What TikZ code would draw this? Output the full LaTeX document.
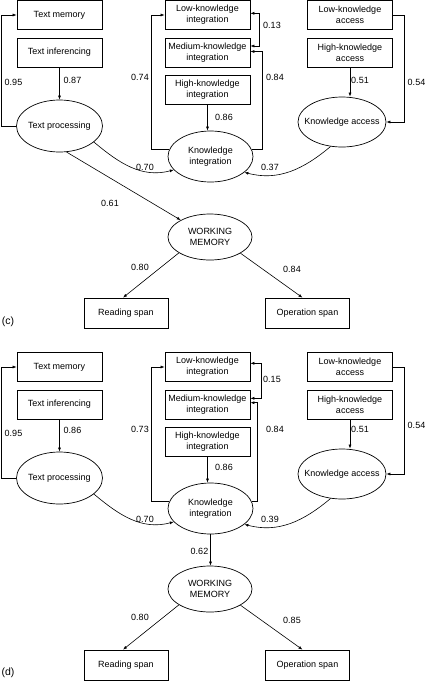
\documentclass[tikz,border=0pt]{standalone}
\usepackage{fontspec}
\setmainfont{Liberation Sans}
\usetikzlibrary{shapes.geometric,arrows.meta,calc}
\newcommand{\fsz}{\fontsize{9}{10.8}\selectfont}
\begin{document}
\begin{tikzpicture}[x=1pt,y=1pt,
 box/.style={draw, line width=0.7pt, minimum width=85pt, minimum height=29pt, inner sep=0pt, align=center, font=\fsz},
 ell/.style={draw, ellipse, line width=0.7pt, inner sep=0pt},
 every label/.style={align=center, font=\fsz},
 arr/.style={line width=0.6pt, -{Latex[length=4pt,width=3pt]}},
 darr/.style={line width=0.6pt, {Latex[length=4pt,width=3pt]}-{Latex[length=4pt,width=3pt]}},
 lab/.style={font=\fsz, inner sep=0pt},
 panel/.style={font=\fontsize{10.5}{12}\selectfont, inner sep=0pt}]
\useasboundingbox (0,0) rectangle (426,-681);

% ================= panel (c) =================
\begin{scope}
\node[box] (tmc) at (59.5,-15) {Text memory};
\node[box] (tic) at (59.5,-52.5) {Text inferencing};
\node[box] (lkic) at (207.5,-15) {Low-knowledge\\integration};
\node[box] (mkic) at (207.5,-53) {Medium-knowledge\\integration};
\node[box] (hkic) at (207.5,-90) {High-knowledge\\integration};
\node[box] (lkac) at (350,-15) {Low-knowledge\\access};
\node[box] (hkac) at (350,-53) {High-knowledge\\access};
\node[ell, minimum width=86pt, minimum height=52pt, label={center:Text processing}] (tpc) at (59.5,-126) {};
\node[ell, minimum width=85pt, minimum height=51pt, label={center:Knowledge\\integration}] (kic) at (210.5,-156.5) {};
\node[ell, minimum width=88pt, minimum height=50pt, label={center:Knowledge access}] (kac) at (342,-122) {};
\node[ell, minimum width=84pt, minimum height=46pt, label={center:WORKING\\MEMORY}] (wmc) at (210,-237) {};
\node[box, minimum width=84pt, minimum height=30pt] (rsc) at (126,-313) {Reading span};
\node[box, minimum width=84pt, minimum height=30pt] (osc) at (307.5,-313) {Operation span};

\draw[arr] (tic) -- (tpc);
\draw[arr] (tpc.west) -- ++(-15,0) |- (tmc.west);
\draw[arr] (kic.170) -| ([xshift=-13pt]lkic.west) -- (lkic.west);
\draw[arr] (kic.10) -| ([shift={(12pt,1.5pt)}]mkic.east) -- ([yshift=1.5pt]mkic.east);
\draw[darr] ([yshift=1.7pt]lkic.east) -| ([shift={(9pt,7pt)}]mkic.east) -- ([yshift=7pt]mkic.east);
\draw[arr] (hkic.south) -- (hkic.south |- kic.north);
\draw[arr] (hkac.south) -- (hkac.south |- kac.north);
\draw[arr] (lkac.east) -| ([xshift=18pt]kac.east) -- (kac.east);
\draw[arr] (tpc.-25) to[out=-40,in=195] (kic.-160);
\draw[arr] (kac.-115) to[out=-140,in=-15] (kic.-25);
\draw[arr] (tpc.-75) -- (wmc.150);
\draw[arr] (wmc.-153) -- ([xshift=-3pt]rsc.north);
\draw[arr] (wmc.-28) -- ([xshift=-5pt]osc.north);

\node[lab] at (13.5,-82) {0.95};
\node[lab] at (72.5,-80) {0.87};
\node[lab] at (140,-77) {0.74};
\node[lab] at (272,-25) {0.13};
\node[lab] at (275,-77) {0.84};
\node[lab] at (224,-117) {0.86};
\node[lab] at (360,-80) {0.51};
\node[lab] at (416.5,-82) {0.54};
\node[lab] at (145,-167) {0.70};
\node[lab] at (270,-167) {0.37};
\node[lab] at (110,-203) {0.61};
\node[lab] at (140,-267) {0.80};
\node[lab] at (292,-269) {0.84};
\node[panel] at (8,-322) {(c)};
\end{scope}

% ================= panel (d) =================
\begin{scope}[yshift=-352pt]
\node[box] (tmd) at (59.5,-15) {Text memory};
\node[box] (tid) at (59.5,-52.5) {Text inferencing};
\node[box] (lkid) at (207.5,-15) {Low-knowledge\\integration};
\node[box] (mkid) at (207.5,-53) {Medium-knowledge\\integration};
\node[box] (hkid) at (207.5,-90) {High-knowledge\\integration};
\node[box] (lkad) at (350,-15) {Low-knowledge\\access};
\node[box] (hkad) at (350,-53) {High-knowledge\\access};
\node[ell, minimum width=86pt, minimum height=52pt, label={center:Text processing}] (tpd) at (59.5,-126) {};
\node[ell, minimum width=85pt, minimum height=51pt, label={center:Knowledge\\integration}] (kid) at (210.5,-156.5) {};
\node[ell, minimum width=88pt, minimum height=50pt, label={center:Knowledge access}] (kad) at (342,-122) {};
\node[ell, minimum width=84pt, minimum height=46pt, label={center:WORKING\\MEMORY}] (wmd) at (210,-237) {};
\node[box, minimum width=84pt, minimum height=30pt] (rsd) at (126,-313) {Reading span};
\node[box, minimum width=84pt, minimum height=30pt] (osd) at (307.5,-313) {Operation span};

\draw[arr] (tid) -- (tpd);
\draw[arr] (tpd.west) -- ++(-15,0) |- (tmd.west);
\draw[arr] (kid.170) -| ([xshift=-13pt]lkid.west) -- (lkid.west);
\draw[arr] (kid.10) -| ([shift={(7pt,2.3pt)}]mkid.east) -- ([yshift=2.3pt]mkid.east);
\draw[darr] ([yshift=3.7pt]lkid.east) -| ([shift={(11pt,6.7pt)}]mkid.east) -- ([yshift=6.7pt]mkid.east);
\draw[arr] (hkid.south) -- (hkid.south |- kid.north);
\draw[arr] (hkad.south) -- (hkad.south |- kad.north);
\draw[arr] (lkad.east) -| ([xshift=18pt]kad.east) -- (kad.east);
\draw[arr] (tpd.-25) to[out=-40,in=195] (kid.-160);
\draw[arr] (kad.-115) to[out=-140,in=-15] (kid.-25);
\draw[arr] (kid.south) -- (kid.south |- wmd.north);
\draw[arr] (wmd.-153) -- ([xshift=-3pt]rsd.north);
\draw[arr] (wmd.-28) -- ([xshift=-5pt]osd.north);

\node[lab] at (13.5,-81) {0.95};
\node[lab] at (72.5,-78) {0.86};
\node[lab] at (140,-77) {0.73};
\node[lab] at (272,-27) {0.15};
\node[lab] at (275,-77) {0.84};
\node[lab] at (224,-115) {0.86};
\node[lab] at (360,-77) {0.51};
\node[lab] at (416.5,-73) {0.54};
\node[lab] at (145,-167) {0.70};
\node[lab] at (270,-167) {0.39};
\node[lab] at (199.5,-199) {0.62};
\node[lab] at (140,-265) {0.80};
\node[lab] at (292,-268) {0.85};
\node[panel] at (8,-321) {(d)};
\end{scope}
\end{tikzpicture}
\end{document}
